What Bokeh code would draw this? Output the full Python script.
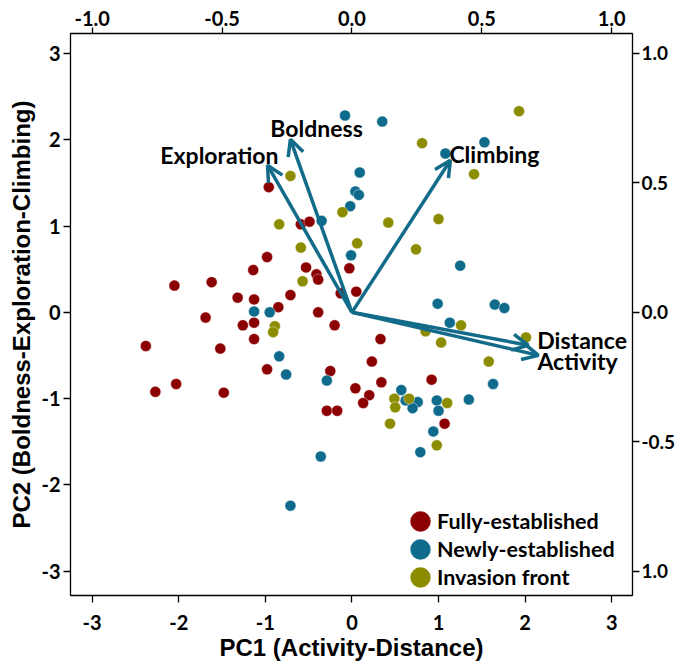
from bokeh.core.properties import value
from bokeh.embed import file_html
from bokeh.models import (Arrow, ColumnDataSource, FixedTicker, Legend, LegendItem,
                          LinearAxis, OpenHead, Range1d)
from bokeh.plotting import figure
from bokeh.resources import INLINE

# PCA biplot: individuals (scores) + loadings arrows

fully_x = [-0.96, -0.59, -0.49, -0.98, -0.03, -0.53, -1.14, -0.41, -0.39, -2.05,
           -1.62, 0.05, -0.13, -0.71, -1.32, -1.13, -0.85, -0.39, -1.69, -1.26,
           -1.13, -0.20, -2.38, -1.52, -1.13, -0.98, -0.25, -2.27, -2.03, -1.48,
           0.04, -0.29, -0.17, 0.33, 0.23, 0.34, 0.20, 0.13, 0.92, 1.07]
fully_y = [1.45, 1.02, 1.05, 0.64, 0.51, 0.52, 0.49, 0.44, 0.38, 0.31,
           0.35, 0.24, 0.22, 0.20, 0.17, 0.15, 0.06, 0.00, -0.06, -0.15,
           -0.12, -0.15, -0.39, -0.42, -0.31, -0.66, -0.68, -0.92, -0.83, -0.93,
           -0.88, -1.14, -1.14, -0.31, -0.57, -0.81, -0.96, -1.05, -0.78, -1.29]

newly_x = [-0.08, 0.35, 1.53, 1.08, 0.09, 0.04, 0.08, -0.02, -0.35, -0.01,
           1.25, 0.99, 1.65, 1.76, -1.13, -0.95, 1.13, -0.84, -0.76, -0.29,
           1.63, 0.57, 0.62, 0.76, 0.70, 0.98, 1.00, 1.35, 0.94, 0.79,
           -0.36, -0.71]
newly_y = [2.28, 2.21, 1.97, 1.84, 1.62, 1.40, 1.36, 1.23, 1.06, 0.66,
           0.54, 0.10, 0.09, 0.05, 0.01, 0.00, -0.12, -0.51, -0.72, -0.79,
           -0.83, -0.90, -1.02, -1.04, -1.11, -1.02, -1.14, -1.01, -1.38, -1.62,
           -1.67, -2.24]

front_x = [1.93, 0.81, 1.41, -0.71, -0.11, -0.84, 0.42, 1.00, 0.06, -0.59,
           0.74, -0.57, -0.89, -0.91, 1.26, 0.85, 1.03, 2.01, 1.58, 0.49,
           0.66, 0.50, 1.10, 0.44, 0.98]
front_y = [2.33, 1.96, 1.60, 1.58, 1.16, 1.02, 1.04, 1.08, 0.80, 0.75,
           0.73, 0.36, -0.16, -0.23, -0.15, -0.22, -0.35, -0.29, -0.57, -1.00,
           -1.00, -1.10, -1.05, -1.29, -1.54]

traits = ["Exploration", "Boldness", "Climbing", "Distance", "Activity"]
load_pc1 = [-0.325, -0.237, 0.379, 0.679, 0.718]
load_pc2 = [0.568, 0.668, 0.587, -0.127, -0.166]

groups = ["Fully-established", "Newly-established", "Invasion front"]
colors = ["#8b0000", "#0e6b8c", "#8c8c00"]
arrow_color = "#136b8a"

score_ticks = [-3, -2, -1, 0, 1, 2, 3]
load_ticks = [-1.0, -0.5, 0.0, 0.5, 1.0]
top_labels = ["-1.0", "-0.5", "0.0", "0.5", "1.0"]
right_labels = ["1.0", "-0.5", "0.0", "0.5", "1.0"]

# label placement relative to arrow tips (screen px)
lab_align = ["right", "left", "left", "left", "left"]
lab_dx = [11, -20, -1, 9, -1]
lab_dy = [-10, -11, -6, -5, 6]

xr = (-3.25, 3.24)
yr = (-3.28, 3.23)
k = 3.0  # score / loading scale

p = figure(width=685, height=666, output_backend="svg", toolbar_location=None,
           x_range=Range1d(*xr), y_range=Range1d(*yr),
           min_border_left=70, min_border_top=33, min_border_right=53,
           min_border_bottom=71)
p.extra_x_ranges = {"lx": Range1d(xr[0] / k, xr[1] / k)}
p.extra_y_ranges = {"ly": Range1d(yr[0] / k, yr[1] / k)}
p.xgrid.visible = False
p.ygrid.visible = False
p.outline_line_color = "black"
p.background_fill_color = "white"
p.border_fill_color = "white"

top = LinearAxis(x_range_name="lx", ticker=FixedTicker(ticks=load_ticks),
                 major_label_overrides=dict(zip(load_ticks, top_labels)))
right = LinearAxis(y_range_name="ly", ticker=FixedTicker(ticks=load_ticks),
                   major_label_overrides=dict(zip(load_ticks, right_labels)))
p.add_layout(top, "above")
p.add_layout(right, "right")
bottom = p.below[0]
left = p.left[0]
for ax in (bottom, left):
    ax.ticker = FixedTicker(ticks=score_ticks)
    ax.major_label_overrides = {t: str(t) for t in score_ticks}

for ax in (bottom, left, top, right):
    ax.axis_line_color = "black"
    ax.axis_line_width = 1.3
    ax.major_tick_line_color = "black"
    ax.major_tick_line_width = 1.3
    ax.major_tick_out = 7
    ax.major_tick_in = 0
    ax.minor_tick_line_color = None
    ax.major_label_text_font = "Lato"
    ax.major_label_text_font_style = "bold"
    ax.major_label_text_font_size = "20px"
    ax.major_label_text_color = "black"
    ax.major_label_standoff = 3
top.major_tick_out = 6
top.major_label_standoff = 2
right.major_label_standoff = 2
right.major_label_text_font_size = "19px"
bottom.major_label_standoff = 12

bottom.axis_label = "PC1 (Activity-Distance)"
left.axis_label = "PC2 (Boldness-Exploration-Climbing)"
for ax in (bottom, left):
    ax.axis_label_text_font = "Liberation Sans"
    ax.axis_label_text_font_style = "bold"
    ax.axis_label_text_font_size = "24px"
    ax.axis_label_text_color = "black"
bottom.axis_label_standoff = 1
left.axis_label_standoff = 3

pts = dict(width=11, height=11, width_units="screen", height_units="screen",
           line_color="white", line_width=0.4)
r_full = p.ellipse(fully_x, fully_y, fill_color=colors[0], **pts)
r_new = p.ellipse(newly_x, newly_y, fill_color=colors[1], **pts)
r_front = p.ellipse(front_x, front_y, fill_color=colors[2], **pts)

for x1, y1 in zip(load_pc1, load_pc2):
    p.add_layout(Arrow(end=OpenHead(size=16, line_width=3.5, line_color=arrow_color),
                       x_start=0, y_start=0, x_end=x1, y_end=y1,
                       x_range_name="lx", y_range_name="ly",
                       line_color=arrow_color, line_width=3.5))

src = ColumnDataSource(dict(x=load_pc1, y=load_pc2, t=traits, a=lab_align, dx=lab_dx, dy=lab_dy))
p.text(x="x", y="y", text="t", text_align="a", x_offset="dx", y_offset="dy",
       text_baseline="middle", source=src, x_range_name="lx", y_range_name="ly",
       text_font=value("Lato"), text_font_style="bold", text_font_size="23px",
       text_color="black")

legend = Legend(items=[LegendItem(label=groups[0], renderers=[r_full]),
                       LegendItem(label=groups[1], renderers=[r_new]),
                       LegendItem(label=groups[2], renderers=[r_front])],
                location=(337, 5), glyph_width=26, glyph_height=26, spacing=2,
                padding=0, margin=0, label_standoff=4,
                label_text_font="Lato", label_text_font_style="bold",
                label_text_font_size="21.5px", label_text_color="black",
                background_fill_alpha=0, border_line_color=None)
p.add_layout(legend, "center")

open("out.html", "w").write(file_html(p, INLINE))
